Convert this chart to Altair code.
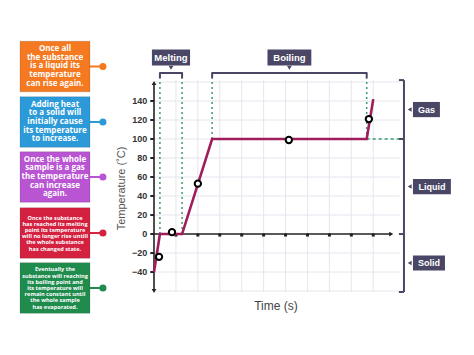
import altair as alt
import pandas as pd

# ---------------- data ----------------
curve_time = [0, 0.27, 1.28, 2.65, 9.7, 10.0]
curve_temp = [-40, 0, 0, 100, 100, 142]

marker_time = [0.23, 0.82, 2.0, 6.15, 9.8]
marker_temp = [-24, 2, 53, 99, 121]

y_ticks = [-40, -20, 0, 20, 40, 60, 80, 100, 120, 140]
x_ticks = [1, 2, 3, 4, 5, 6, 7, 8, 9, 10]
grid_y = [-60, -40, -20, 20, 40, 60, 80, 100, 120, 140, 160]

melt_start, melt_end = 0.27, 1.28
boil_start, boil_end = 2.65, 9.7

phase_labels = ["Gas", "Liquid", "Solid"]
phase_bounds = [(100, 162), (0, 100), (-61, 0)]

callout_texts = [
    "Once all\nthe substance\nis a liquid its\ntemperature\ncan rise again.",
    "Adding heat\nto a solid will\ninitially cause\nits temperature\nto increase.",
    "Once the whole\nsample is a gas\nthe temperature\ncan increase\nagain.",
    "Once the substance\nhas reached its melting\npoint its temperature\nwill no longer rise untill\nthe whole substance\nhas changed state.",
    "Eventually the\nsubstance will reaching\nits boiling point and\nits temperature will\nremain constant until\nthe whole sample\nhas evaporated.",
]
callout_colors = ["#f47920", "#2c9ad9", "#b954d3", "#d3213f", "#1f8c4e"]

# ---------------- layout (data units) ----------------
X_DOM = [0, 10.9]
Y_DOM = [-61, 160]
DARK = "#4a4766"
CURVE = "#a01d5c"
GREEN = "#3a9a6c"


def X(f):
    return alt.X(f, type="quantitative", scale=alt.Scale(domain=X_DOM, nice=False, zero=False), axis=None)


def Y(f):
    return alt.Y(f, type="quantitative", scale=alt.Scale(domain=Y_DOM, nice=False, zero=False), axis=None)


layers = []

# grid
gv = pd.DataFrame({"t": x_ticks, "y0": -61, "y1": 162})
layers.append(alt.Chart(gv).mark_rule(color="#e6e6ee", strokeWidth=1, clip=False).encode(
    x=X("t"), y=Y("y0"), y2="y1"))
gh = pd.DataFrame({"v": grid_y, "t0": 0, "t1": 11.2})
layers.append(alt.Chart(gh).mark_rule(color="#e6e6ee", strokeWidth=1, clip=False).encode(
    x=X("t0"), x2="t1", y=Y("v")))

# green dotted guide lines
dl = pd.DataFrame({
    "t": [melt_start, melt_end, boil_start, boil_end],
    "y0": [0, 0, 100, 100],
    "y1": [164, 164, 164, 164],
})
layers.append(alt.Chart(dl).mark_rule(color=GREEN, strokeWidth=1.5, strokeDash=[2, 3], clip=False).encode(
    x=X("t"), y=Y("y0"), y2="y1"))
hl = pd.DataFrame({"t0": [boil_end], "t1": [11.2], "v": [100]})
layers.append(alt.Chart(hl).mark_rule(color=GREEN, strokeWidth=1.5, strokeDash=[3, 3], clip=False).encode(
    x=X("t0"), x2="t1", y=Y("v")))

# axes
ax = pd.DataFrame({"t0": [0, 0], "t1": [0, 10.8], "y0": [-59, 0], "y1": [158, 0]})
layers.append(alt.Chart(ax).mark_rule(color="#222222", strokeWidth=1.6, clip=False).encode(
    x=X("t0"), x2="t1", y=Y("y0"), y2="y1"))
arrows = pd.DataFrame({"t": [0, 0, 10.82], "v": [159, -60, 0], "shape": ["triangle-up", "triangle-down", "triangle-right"]})
layers.append(alt.Chart(arrows).mark_point(filled=True, color="#222222", size=22, opacity=1, clip=False).encode(
    x=X("t"), y=Y("v"), shape=alt.Shape("shape:N", scale=None)))
yt = pd.DataFrame({"v": y_ticks, "t0": -0.17, "t1": 0})
layers.append(alt.Chart(yt).mark_rule(color="#222222", strokeWidth=2, clip=False).encode(
    x=X("t0"), x2="t1", y=Y("v")))
layers.append(alt.Chart(yt).mark_text(align="right", baseline="middle", font="Liberation Sans", fontSize=9,
                                       fontWeight="bold", color="#333333", clip=False).encode(
    x=X("t0"), y=Y("v"), text=alt.Text("v:Q"), xOffset=alt.value(-3)))
xt = pd.DataFrame({"t": x_ticks, "v": 0})
layers.append(alt.Chart(xt).mark_square(filled=True, color="#222222", size=9, opacity=1, clip=False).encode(
    x=X("t"), y=Y("v"), yOffset=alt.value(1)))

# axis titles
layers.append(alt.Chart(pd.DataFrame({"t": [-1.46], "v": [48], "s": ["Temperature (˚C)"]})).mark_text(
    angle=270, font="Liberation Sans", fontSize=11, color="#555555", clip=False).encode(
    x=X("t"), y=Y("v"), text="s:N"))
layers.append(alt.Chart(pd.DataFrame({"t": [5.56], "v": [-76], "s": ["Time (s)"]})).mark_text(
    font="Liberation Sans", fontSize=12, color="#444444", clip=False).encode(
    x=X("t"), y=Y("v"), text="s:N"))

# heating curve
cv = pd.DataFrame({"t": curve_time, "v": curve_temp, "o": range(len(curve_time))})
layers.append(alt.Chart(cv).mark_line(color=CURVE, strokeWidth=2.6, clip=False).encode(
    x=X("t"), y=Y("v"), order="o:Q"))
mk = pd.DataFrame({"t": marker_time, "v": marker_temp})
layers.append(alt.Chart(mk).mark_point(filled=True, fill="white", stroke="black", strokeWidth=2, size=40,
                                        opacity=1, clip=False).encode(x=X("t"), y=Y("v")))

# top brackets
br_rows = []
for i, (a, b) in enumerate([(melt_start, melt_end), (boil_start, boil_end)]):
    for j, (t, v) in enumerate([(a, 164), (a, 169.5), (b, 169.5), (b, 164)]):
        br_rows.append({"g": i, "o": j, "t": t, "v": v})
layers.append(alt.Chart(pd.DataFrame(br_rows)).mark_line(color=DARK, strokeWidth=2, strokeJoin="round",
                                                          clip=False).encode(
    x=X("t"), y=Y("v"), detail="g:N", order="o:Q"))
tb = pd.DataFrame({
    "s": ["Melting", "Boiling"],
    "c": [(melt_start + melt_end) / 2, (boil_start + boil_end) / 2],
    "hw": [0.87, 1.0],
})
tb["t0"] = tb["c"] - tb["hw"]
tb["t1"] = tb["c"] + tb["hw"]
tb["y0"] = 177.3
tb["y1"] = 194.1
tb["ym"] = 185.7
tb["yp"] = 175.0
layers.append(alt.Chart(tb).mark_rect(color=DARK, clip=False).encode(x=X("t0"), x2="t1", y=Y("y0"), y2="y1"))
layers.append(alt.Chart(tb).mark_point(shape="triangle-down", filled=True, color=DARK, size=24, opacity=1,
                                        clip=False).encode(x=X("c"), y=Y("yp")))
layers.append(alt.Chart(tb).mark_text(color="white", font="Liberation Sans", fontWeight="bold", fontSize=9.5,
                                       clip=False).encode(x=X("c"), y=Y("ym"), text="s:N"))

# right brace
rb = pd.DataFrame({"t0": [11.40], "t1": [11.40], "y0": [-61], "y1": [162]})
layers.append(alt.Chart(rb).mark_rule(color=DARK, strokeWidth=2, clip=False).encode(
    x=X("t0"), y=Y("y0"), y2="y1"))
rn = pd.DataFrame({"t0": 11.17, "t1": 11.40, "v": [162, 100, 0, -61]})
layers.append(alt.Chart(rn).mark_rule(color=DARK, strokeWidth=2, clip=False).encode(
    x=X("t0"), x2="t1", y=Y("v")))
pl = pd.DataFrame({
    "s": phase_labels,
    "c": [(a + b) / 2 for a, b in phase_bounds],
    "t1": [13.04, 13.54, 13.27],
})
pl["t0"] = 11.81
pl["tp"] = 11.66
pl["tm"] = (pl["t0"] + pl["t1"]) / 2
pl["y0"] = pl["c"] - 8.0
pl["y1"] = pl["c"] + 8.0
layers.append(alt.Chart(pl).mark_rect(color=DARK, clip=False).encode(x=X("t0"), x2="t1", y=Y("y0"), y2="y1"))
layers.append(alt.Chart(pl).mark_point(shape="triangle-left", filled=True, color=DARK, size=20, opacity=1,
                                        clip=False).encode(x=X("tp"), y=Y("c")))
layers.append(alt.Chart(pl).mark_text(color="white", font="Liberation Sans", fontWeight="bold", fontSize=9,
                                       clip=False).encode(x=X("tm"), y=Y("c"), text="s:N"))

# left callouts
centers = [176.3, 117.9, 60.0, 1.05, -56.8]
co = pd.DataFrame({"s": callout_texts, "col": callout_colors, "c": centers})
co["y0"] = co["c"] - 26.6
co["y1"] = co["c"] + 26.6
co["t0"] = -6.11
co["t1"] = -2.92
co["tc"] = -4.515
co["td"] = -2.33
font_sizes = [8, 8, 8, 5.6, 5.6]
line_heights = [8.6, 8.6, 8.6, 6.2, 6.2]
layers.append(alt.Chart(co).mark_rule(strokeWidth=2, clip=False).encode(
    x=X("t1"), x2="td", y=Y("c"), color=alt.Color("col:N", scale=None)))
layers.append(alt.Chart(co).mark_rect(clip=False, stroke="#00000022", strokeWidth=1).encode(
    x=X("t0"), x2="t1", y=Y("y0"), y2="y1", color=alt.Color("col:N", scale=None)))
layers.append(alt.Chart(co).mark_point(filled=True, size=50, opacity=1, clip=False).encode(
    x=X("td"), y=Y("c"), color=alt.Color("col:N", scale=None)))
for k in range(len(co)):
    row = co.iloc[[k]]
    n_lines = callout_texts[k].count("\n") + 1
    lh = line_heights[k]
    layers.append(alt.Chart(row).mark_text(color="white", font="Open Sans", fontWeight="bold",
                                           fontSize=font_sizes[k], lineBreak="\n",
                                           lineHeight=lh, align="center",
                                           baseline="middle", dy=-(n_lines - 1) * lh / 2,
                                           clip=False).encode(
        x=X("tc"), y=Y("c"), text="s:N"))

chart = alt.layer(*layers).properties(
    width=239, height=210,
    autosize=alt.AutoSizeParams(type="none"),
    padding={"left": 154, "top": 82, "right": 81, "bottom": 63},
    background="white",
).configure_view(stroke=None)

chart.save("out.html", embed_options={"renderer": "svg", "actions": False})
